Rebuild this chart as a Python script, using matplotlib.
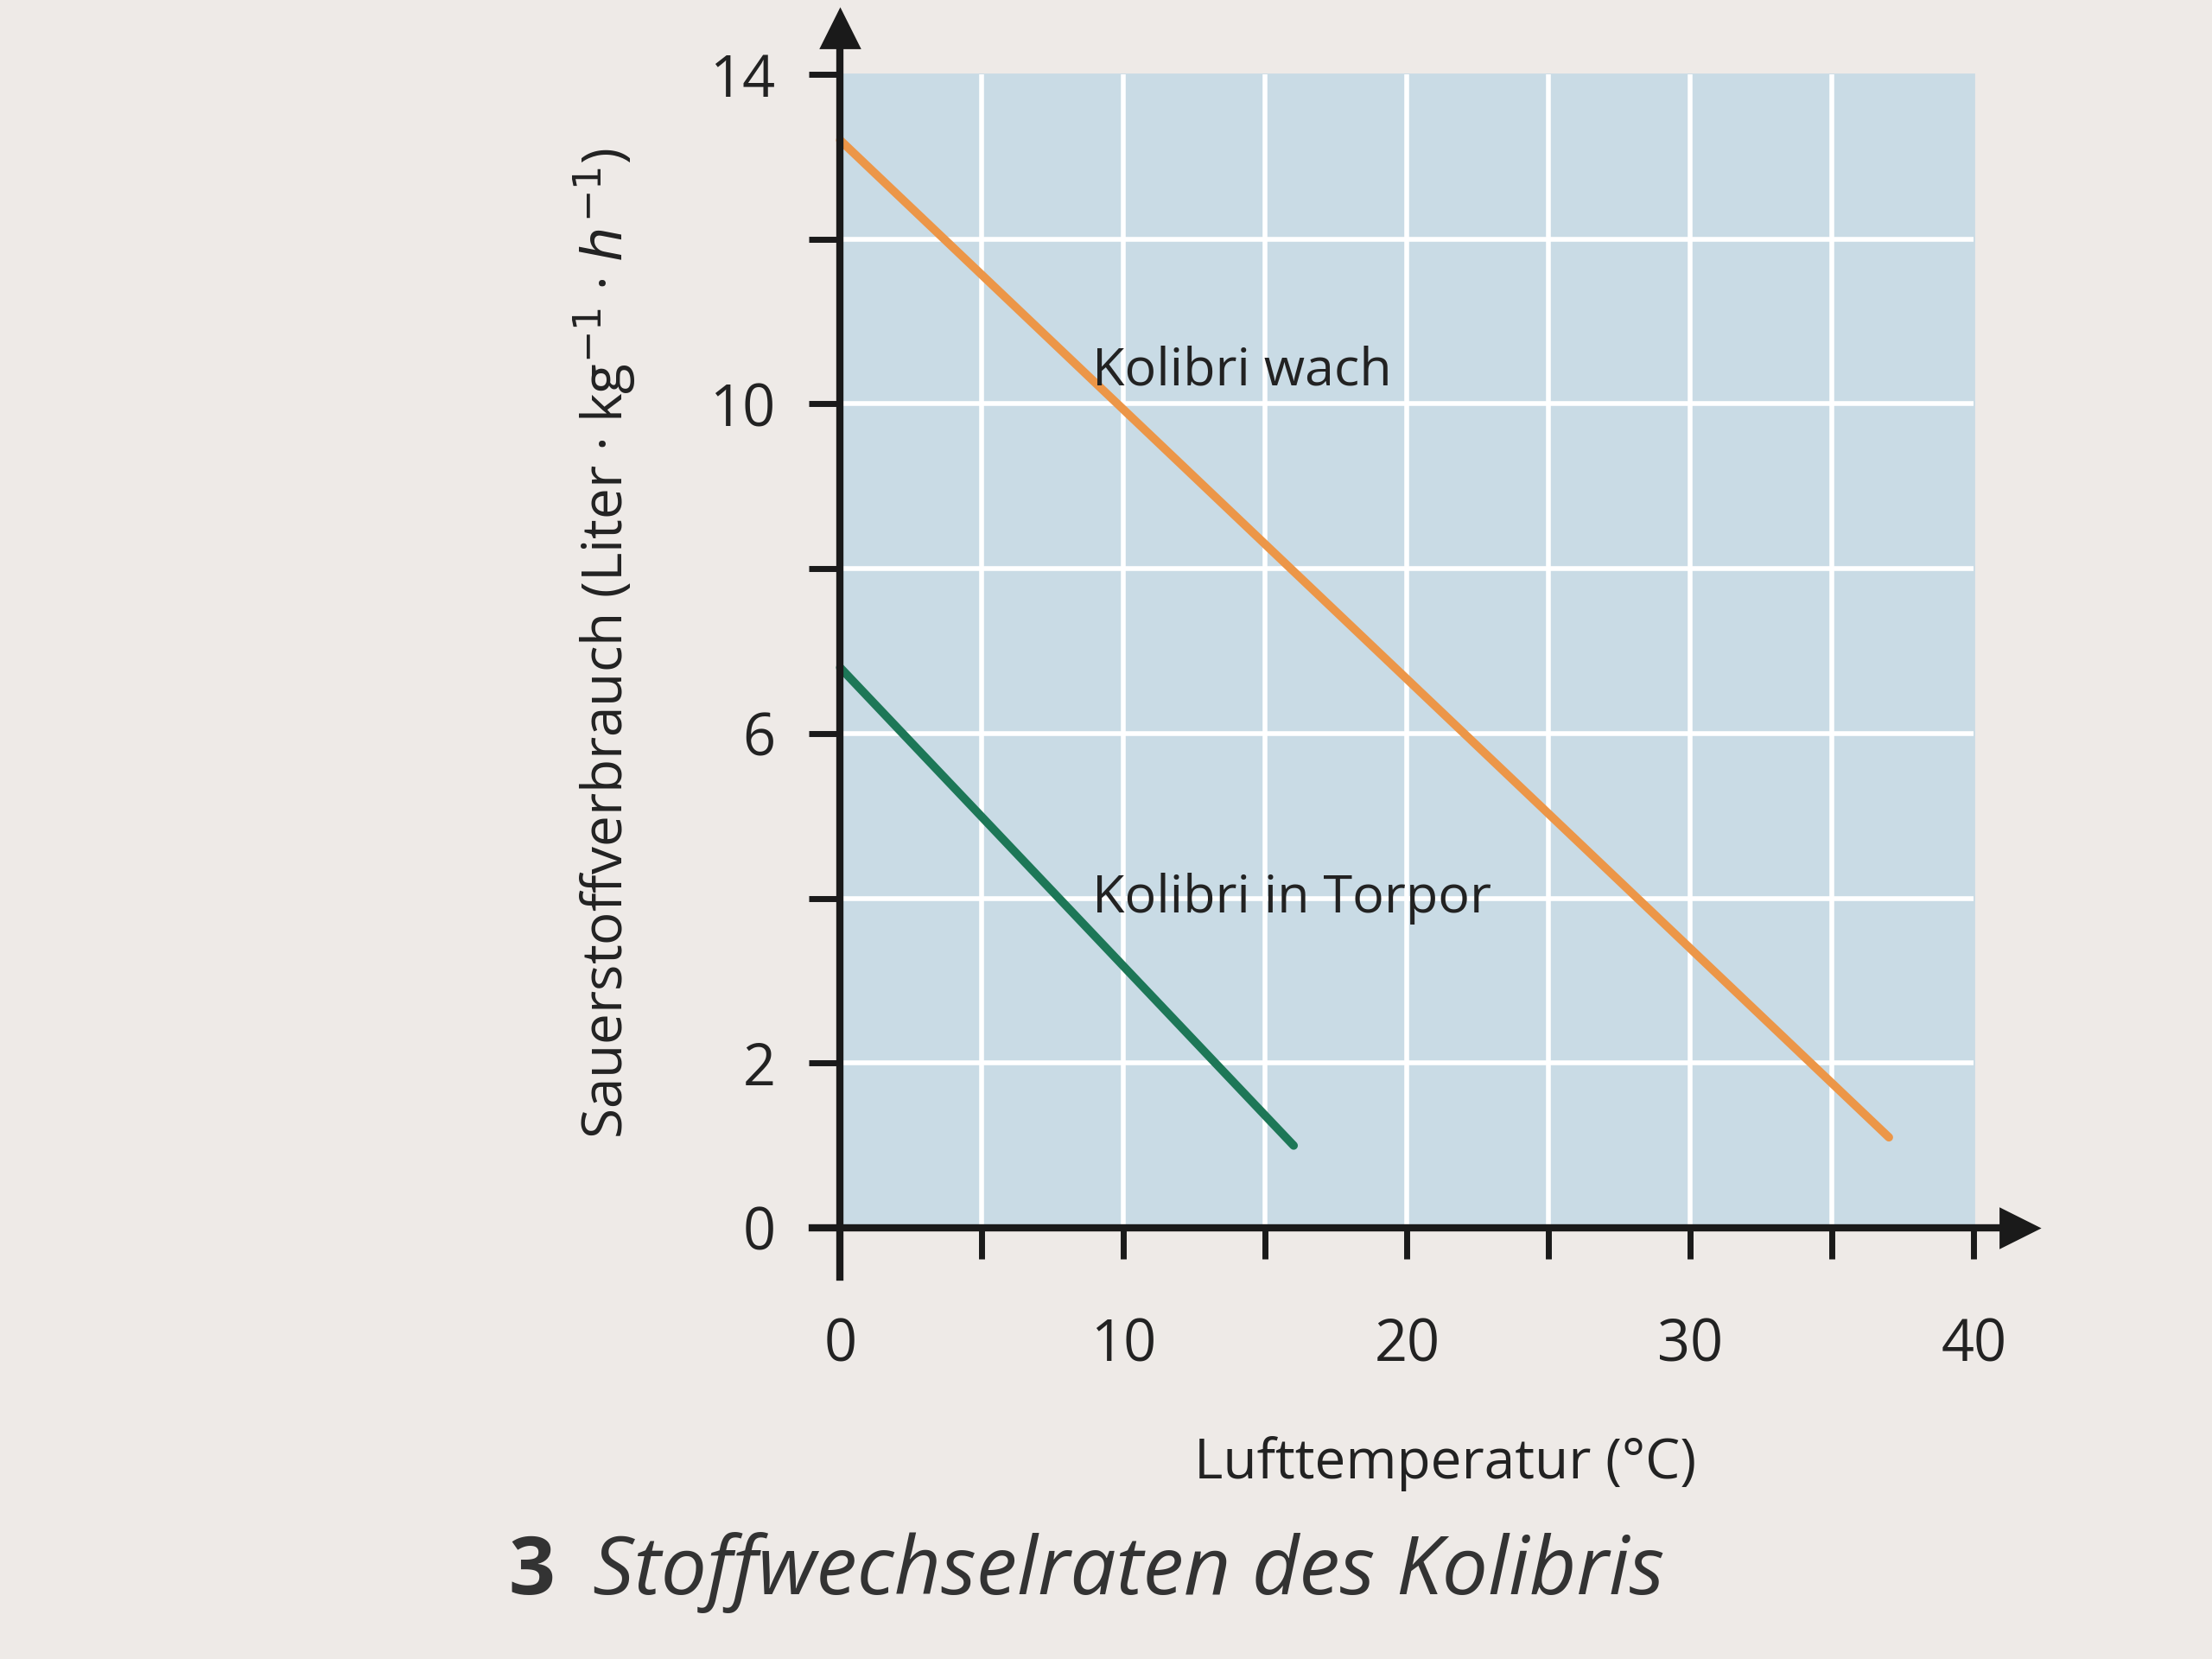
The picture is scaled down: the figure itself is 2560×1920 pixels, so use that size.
import matplotlib.pyplot as plt
import numpy as np

# Werte
temp_wach = [0, 37]
o2_wach = [13.2, 1.1]
temp_torpor = [0, 16]
o2_torpor = [6.8, 1.0]

x_ticks = [0, 5, 10, 15, 20, 25, 30, 35, 40]
x_labels = ['0', '', '10', '', '20', '', '30', '', '40']
y_ticks = [0, 2, 4, 6, 8, 10, 12, 14]
y_labels = ['0', '2', '', '6', '', '10', '', '14']

plt.rcParams['font.family'] = ['Open Sans', 'DejaVu Sans']

fig = plt.figure(figsize=(12.8, 9.6), dpi=200, facecolor='#eeeae7')
ax = fig.add_axes([0.367, 0.23, 0.551, 0.765])
ax.set_facecolor('none')

ax.set_xlim(-1, 42)
ax.set_ylim(-0.6, 14.8)

# blaues Feld mit weissem Raster
ax.add_patch(plt.Rectangle((0, 0), 40, 14, color='#c9dbe5', zorder=0))
ax.vlines(x_ticks[1:-1], 0, 14, colors='white', lw=2, zorder=1)
ax.hlines(y_ticks[1:-1], 0, 40, colors='white', lw=2, zorder=1)

ax.plot(temp_wach, o2_wach, color='#ec9648', lw=3.5, solid_capstyle='round', zorder=3)
ax.plot(temp_torpor, o2_torpor, color='#1d7757', lw=3.5, solid_capstyle='round', zorder=3)

ax.text(8.9, 10.4, 'Kolibri wach', fontsize=22, va='center', ha='left', color='#222222')
ax.text(8.9, 4.0, 'Kolibri in Torpor', fontsize=22, va='center', ha='left', color='#222222')

for s in ['top', 'right']:
    ax.spines[s].set_visible(False)
ax.spines['left'].set_position(('data', 0))
ax.spines['bottom'].set_position(('data', 0))
for s in ['left', 'bottom']:
    ax.spines[s].set_linewidth(3)
    ax.spines[s].set_color('#1a1a1a')
    ax.spines[s].set_zorder(4)
ax.spines['left'].set_bounds(-0.6, 14.4)
ax.spines['bottom'].set_bounds(-1, 41.3)

# Pfeilspitzen
ax.plot(0, 14.55, marker='^', markersize=16, color='#1a1a1a', clip_on=False, zorder=5)
ax.plot(41.6, 0, marker='>', markersize=16, color='#1a1a1a', clip_on=False, zorder=5)

ax.set_xticks(x_ticks)
ax.set_xticklabels(x_labels)
ax.set_yticks(y_ticks)
ax.set_yticklabels(y_labels)
ax.tick_params(axis='both', direction='out', length=13, width=2.5, color='#1a1a1a',
               labelsize=24, labelcolor='#222222')
ax.tick_params(axis='x', pad=24)
ax.tick_params(axis='y', pad=14)

ax.set_ylabel('Sauerstoffverbrauch (Liter · kg$^{-1}$ · $h^{-1}$)', fontsize=23,
              color='#222222', labelpad=30)
ax.set_xlabel('Lufttemperatur (°C)', fontsize=23, color='#222222')
ax.xaxis.set_label_coords(0.52, -0.125)

fig.text(0.23, 0.052, '3', fontsize=34, fontweight='bold', color='#333333', va='center')
fig.text(0.268, 0.052, 'Stoffwechselraten des Kolibris', fontsize=34, style='italic',
         color='#333333', va='center')

fig.savefig('out.png', dpi=200, facecolor=fig.get_facecolor())
